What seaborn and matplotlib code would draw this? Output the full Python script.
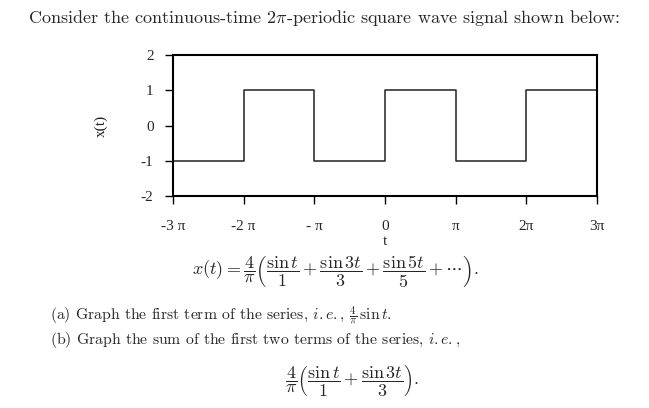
import numpy as np
import pandas as pd
import matplotlib
matplotlib.use("Agg")
import matplotlib.pyplot as plt
import seaborn as sns

# square wave breakpoints (in units of pi) and levels
t_breaks_pi = [-3, -2, -1, 0, 1, 2, 3]
x_levels = [-1, 1, -1, 1, -1, 1, 1]
xtick_pi = [-3, -2, -1, 0, 1, 2, 3]
xtick_labels = ["-3 π", "-2 π", "- π", "0", "π", "2π", "3π"]
ytick_vals = [2, 1, 0, -1, -2]
ytick_labels = ["2", "1", "0", "-1", "-2"]

sns.set_style("ticks")
plt.rcParams['font.family'] = ['Liberation Serif', 'DejaVu Serif']
plt.rcParams['mathtext.fontset'] = 'cm'

df = pd.DataFrame({"t": np.array(t_breaks_pi) * np.pi, "x": x_levels})

fig = plt.figure(figsize=(6.49, 4.08), dpi=100)
ax = fig.add_axes([173/649, 1-196/408, (597-173)/649, (196-55)/408])
sns.lineplot(data=df, x="t", y="x", ax=ax, drawstyle="steps-post",
             color="#222222", linewidth=1.1)
ax.set_xlim(-3*np.pi, 3*np.pi)
ax.set_ylim(-2, 2)
ax.set_xticks(np.array(xtick_pi) * np.pi)
ax.set_xticklabels(xtick_labels)
ax.set_yticks(ytick_vals)
ax.set_yticklabels(ytick_labels)
for s in ax.spines.values():
    s.set_visible(True)
    s.set_linewidth(1.5)
    s.set_color("black")
ax.tick_params(axis="both", length=6, width=1.0, labelsize=11, color="black")
ax.tick_params(axis="x", pad=11)
ax.tick_params(axis="y", pad=8)
ax.set_xlabel("t", fontsize=11, labelpad=2)
ax.set_ylabel("x(t)", fontsize=11, labelpad=24)

cm = 'cmr10'
fig.text(28/649, 1-18/408,
         r"Consider the continuous-time $2\pi$-periodic square wave signal shown below:",
         family=cm, fontsize=13, ha="left", va="center")
fig.text(335/649, 1-271/408,
         r"$x(t) = \dfrac{4}{\pi}\left(\dfrac{\sin t}{1} + \dfrac{\sin 3t}{3} + \dfrac{\sin 5t}{5} + \cdots\right).$",
         fontsize=13, ha="center", va="center")
fig.text(50/649, 1-316/408,
         r"(a) Graph the first term of the series, $\mathit{i.e.}$, $\frac{4}{\pi}\,\sin t$.",
         family=cm, fontsize=11.3, ha="left", va="center")
fig.text(50/649, 1-340/408,
         r"(b) Graph the sum of the first two terms of the series, $\mathit{i.e.}$,",
         family=cm, fontsize=11.3, ha="left", va="center")
fig.text(352/649, 1-380/408,
         r"$\dfrac{4}{\pi}\left(\dfrac{\sin t}{1} + \dfrac{\sin 3t}{3}\right).$",
         fontsize=13, ha="center", va="center")

fig.savefig("out.png", dpi=100)
